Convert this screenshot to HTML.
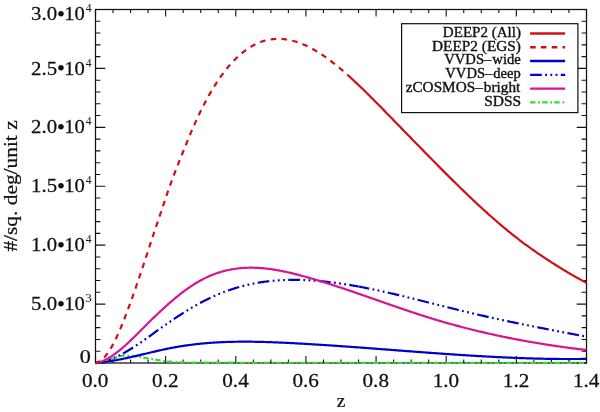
<!DOCTYPE html>
<html><head><meta charset="utf-8"><title>Redshift distributions</title>
<style>html,body{margin:0;padding:0;background:#fff;}svg{display:block;}text{font-kerning:none;}</style></head>
<body><svg width="600" height="412" viewBox="0 0 600 412" font-family="'Liberation Serif', serif" font-size="20" fill="#111">
<rect width="600" height="412" fill="#fff"/>
<rect x="95.5" y="9.5" width="491.00" height="353.50" fill="none" stroke="#111" stroke-width="1.25"/>
<path d="M95.50,363.00V356.00M95.50,9.50V16.50M113.04,363.00V359.50M113.04,9.50V13.00M130.57,363.00V359.50M130.57,9.50V13.00M148.11,363.00V359.50M148.11,9.50V13.00M165.64,363.00V356.00M165.64,9.50V16.50M183.18,363.00V359.50M183.18,9.50V13.00M200.71,363.00V359.50M200.71,9.50V13.00M218.25,363.00V359.50M218.25,9.50V13.00M235.79,363.00V356.00M235.79,9.50V16.50M253.32,363.00V359.50M253.32,9.50V13.00M270.86,363.00V359.50M270.86,9.50V13.00M288.39,363.00V359.50M288.39,9.50V13.00M305.93,363.00V356.00M305.93,9.50V16.50M323.46,363.00V359.50M323.46,9.50V13.00M341.00,363.00V359.50M341.00,9.50V13.00M358.54,363.00V359.50M358.54,9.50V13.00M376.07,363.00V356.00M376.07,9.50V16.50M393.61,363.00V359.50M393.61,9.50V13.00M411.14,363.00V359.50M411.14,9.50V13.00M428.68,363.00V359.50M428.68,9.50V13.00M446.21,363.00V356.00M446.21,9.50V16.50M463.75,363.00V359.50M463.75,9.50V13.00M481.29,363.00V359.50M481.29,9.50V13.00M498.82,363.00V359.50M498.82,9.50V13.00M516.36,363.00V356.00M516.36,9.50V16.50M533.89,363.00V359.50M533.89,9.50V13.00M551.43,363.00V359.50M551.43,9.50V13.00M568.96,363.00V359.50M568.96,9.50V13.00M586.50,363.00V356.00M586.50,9.50V16.50M95.50,363.00H105.30M586.50,363.00H576.70M95.50,351.22H100.40M586.50,351.22H581.60M95.50,339.43H100.40M586.50,339.43H581.60M95.50,327.65H100.40M586.50,327.65H581.60M95.50,315.87H100.40M586.50,315.87H581.60M95.50,304.08H105.30M586.50,304.08H576.70M95.50,292.30H100.40M586.50,292.30H581.60M95.50,280.52H100.40M586.50,280.52H581.60M95.50,268.73H100.40M586.50,268.73H581.60M95.50,256.95H100.40M586.50,256.95H581.60M95.50,245.17H105.30M586.50,245.17H576.70M95.50,233.38H100.40M586.50,233.38H581.60M95.50,221.60H100.40M586.50,221.60H581.60M95.50,209.82H100.40M586.50,209.82H581.60M95.50,198.03H100.40M586.50,198.03H581.60M95.50,186.25H105.30M586.50,186.25H576.70M95.50,174.47H100.40M586.50,174.47H581.60M95.50,162.68H100.40M586.50,162.68H581.60M95.50,150.90H100.40M586.50,150.90H581.60M95.50,139.12H100.40M586.50,139.12H581.60M95.50,127.33H105.30M586.50,127.33H576.70M95.50,115.55H100.40M586.50,115.55H581.60M95.50,103.77H100.40M586.50,103.77H581.60M95.50,91.98H100.40M586.50,91.98H581.60M95.50,80.20H100.40M586.50,80.20H581.60M95.50,68.42H105.30M586.50,68.42H576.70M95.50,56.63H100.40M586.50,56.63H581.60M95.50,44.85H100.40M586.50,44.85H581.60M95.50,33.07H100.40M586.50,33.07H581.60M95.50,21.28H100.40M586.50,21.28H581.60M95.50,9.50H105.30M586.50,9.50H576.70" stroke="#111" stroke-width="1.1" fill="none"/>
<g fill="none" stroke-width="2.2" stroke-linejoin="round">
<path d="M95.50,363.00 L96.50,362.90 L97.50,362.78 L98.50,362.63 L99.50,362.47 L100.50,362.29 L101.50,362.10 L102.50,361.87 L103.50,361.61 L104.50,361.32 L105.50,361.01 L106.50,360.69 L107.50,360.35 L108.50,360.01 L109.50,359.67 L110.50,359.32 L111.50,358.93 L112.50,358.54 L113.50,358.14 L114.50,357.77 L115.50,357.43 L116.50,357.07 L117.50,356.71 L118.50,356.38 L119.50,356.09 L120.50,355.89 L121.50,355.78 L122.50,355.70 L123.50,355.63 L124.50,355.58 L125.50,355.53 L126.50,355.51 L127.50,355.50 L128.50,355.53 L129.50,355.59 L130.50,355.68 L131.50,355.79 L132.50,355.90 L133.50,356.01 L134.50,356.12 L135.50,356.25 L136.50,356.38 L137.50,356.52 L138.50,356.67 L139.50,356.83 L140.50,357.01 L141.50,357.20 L142.50,357.41 L143.50,357.61 L144.50,357.81 L145.50,358.00 L146.50,358.17 L147.50,358.33 L148.50,358.49 L149.50,358.65 L150.50,358.81 L151.50,358.97 L152.50,359.13 L153.50,359.30 L154.50,359.47 L155.50,359.64 L156.50,359.81 L157.50,359.97 L158.50,360.13 L159.50,360.28 L160.50,360.44 L161.50,360.59 L162.50,360.73 L163.50,360.87 L164.50,361.01 L165.50,361.15 L166.50,361.28 L167.50,361.40 L168.50,361.52 L169.50,361.62 L170.50,361.71 L171.50,361.79 L172.50,361.87 L173.50,361.95 L174.50,362.01 L175.50,362.07 L176.50,362.13 L177.50,362.18 L178.50,362.22 L179.50,362.27 L180.50,362.31 L181.50,362.35 L182.50,362.38 L183.50,362.41 L184.50,362.43 L185.50,362.46 L186.50,362.48 L187.50,362.51 L188.50,362.53 L189.50,362.56 L190.50,362.58 L191.50,362.60 L192.50,362.62 L193.50,362.64 L194.50,362.65 L195.50,362.67 L196.50,362.68 L197.50,362.69 L198.50,362.70 L199.50,362.70 L200.50,362.70 L201.50,362.70 L202.50,362.70 L203.50,362.70 L204.50,362.70 L205.50,362.70 L206.50,362.70 L207.50,362.71 L208.50,362.71 L209.50,362.71 L210.50,362.71 L211.50,362.71 L212.50,362.71 L213.50,362.71 L214.50,362.71 L215.50,362.71 L216.50,362.71 L217.50,362.71 L218.50,362.71 L219.50,362.71 L220.50,362.71 L221.50,362.71 L222.50,362.72 L223.50,362.72 L224.50,362.72 L225.50,362.72 L226.50,362.72 L227.50,362.72 L228.50,362.72 L229.50,362.72 L230.50,362.72 L231.50,362.72 L232.50,362.72 L233.50,362.72 L234.50,362.72 L235.50,362.72 L236.50,362.72 L237.50,362.72 L238.50,362.73 L239.50,362.73 L240.50,362.73 L241.50,362.73 L242.50,362.73 L243.50,362.73 L244.50,362.73 L245.50,362.73 L246.50,362.73 L247.50,362.73 L248.50,362.73 L249.50,362.73 L250.50,362.73 L251.50,362.73 L252.50,362.73 L253.50,362.73 L254.50,362.73 L255.50,362.74 L256.50,362.74 L257.50,362.74 L258.50,362.74 L259.50,362.74 L260.50,362.74 L261.50,362.74 L262.50,362.74 L263.50,362.74 L264.50,362.74 L265.50,362.74 L266.50,362.74 L267.50,362.74 L268.50,362.74 L269.50,362.74 L270.50,362.74 L271.50,362.74 L272.50,362.74 L273.50,362.74 L274.50,362.74 L275.50,362.75 L276.50,362.75 L277.50,362.75 L278.50,362.75 L279.50,362.75 L280.50,362.75 L281.50,362.75 L282.50,362.75 L283.50,362.75 L284.50,362.75 L285.50,362.75 L286.50,362.75 L287.50,362.75 L288.50,362.75 L289.50,362.75 L290.50,362.75 L291.50,362.75 L292.50,362.75 L293.50,362.75 L294.50,362.75 L295.50,362.75 L296.50,362.76 L297.50,362.76 L298.50,362.76 L299.50,362.76 L300.50,362.76 L301.50,362.76 L302.50,362.76 L303.50,362.76 L304.50,362.76 L305.50,362.76 L306.50,362.76 L307.50,362.76 L308.50,362.76 L309.50,362.76 L310.50,362.76 L311.50,362.76 L312.50,362.76 L313.50,362.76 L314.50,362.76 L315.50,362.76 L316.50,362.76 L317.50,362.76 L318.50,362.76 L319.50,362.76 L320.50,362.76 L321.50,362.76 L322.50,362.77 L323.50,362.77 L324.50,362.77 L325.50,362.77 L326.50,362.77 L327.50,362.77 L328.50,362.77 L329.50,362.77 L330.50,362.77 L331.50,362.77 L332.50,362.77 L333.50,362.77 L334.50,362.77 L335.50,362.77 L336.50,362.77 L337.50,362.77 L338.50,362.77 L339.50,362.77 L340.50,362.77 L341.50,362.77 L342.50,362.77 L343.50,362.77 L344.50,362.77 L345.50,362.77 L346.50,362.77 L347.50,362.77 L348.50,362.77 L349.50,362.77 L350.50,362.77 L351.50,362.77 L352.50,362.77 L353.50,362.78 L354.50,362.78 L355.50,362.78 L356.50,362.78 L357.50,362.78 L358.50,362.78 L359.50,362.78 L360.50,362.78 L361.50,362.78 L362.50,362.78 L363.50,362.78 L364.50,362.78 L365.50,362.78 L366.50,362.78 L367.50,362.78 L368.50,362.78 L369.50,362.78 L370.50,362.78 L371.50,362.78 L372.50,362.78 L373.50,362.78 L374.50,362.78 L375.50,362.78 L376.50,362.78 L377.50,362.78 L378.50,362.78 L379.50,362.78 L380.50,362.78 L381.50,362.78 L382.50,362.78 L383.50,362.78 L384.50,362.78 L385.50,362.78 L386.50,362.78 L387.50,362.78 L388.50,362.78 L389.50,362.78 L390.50,362.78 L391.50,362.78 L392.50,362.78 L393.50,362.79 L394.50,362.79 L395.50,362.79 L396.50,362.79 L397.50,362.79 L398.50,362.79 L399.50,362.79 L400.50,362.79 L401.50,362.79 L402.50,362.79 L403.50,362.79 L404.50,362.79 L405.50,362.79 L406.50,362.79 L407.50,362.79 L408.50,362.79 L409.50,362.79 L410.50,362.79 L411.50,362.79 L412.50,362.79 L413.50,362.79 L414.50,362.79 L415.50,362.79 L416.50,362.79 L417.50,362.79 L418.50,362.79 L419.50,362.79 L420.50,362.79 L421.50,362.79 L422.50,362.79 L423.50,362.79 L424.50,362.79 L425.50,362.79 L426.50,362.79 L427.50,362.79 L428.50,362.79 L429.50,362.79 L430.50,362.79 L431.50,362.79 L432.50,362.79 L433.50,362.79 L434.50,362.79 L435.50,362.79 L436.50,362.79 L437.50,362.79 L438.50,362.79 L439.50,362.79 L440.50,362.79 L441.50,362.79 L442.50,362.79 L443.50,362.79 L444.50,362.79 L445.50,362.79 L446.50,362.79 L447.50,362.79 L448.50,362.79 L449.50,362.79 L450.50,362.79 L451.50,362.79 L452.50,362.79 L453.50,362.79 L454.50,362.79 L455.50,362.79 L456.50,362.79 L457.50,362.79 L458.50,362.79 L459.50,362.80 L460.50,362.80 L461.50,362.80 L462.50,362.80 L463.50,362.80 L464.50,362.80 L465.50,362.80 L466.50,362.80 L467.50,362.80 L468.50,362.80 L469.50,362.80 L470.50,362.80 L471.50,362.80 L472.50,362.80 L473.50,362.80 L474.50,362.80 L475.50,362.80 L476.50,362.80 L477.50,362.80 L478.50,362.80 L479.50,362.80 L480.50,362.80 L481.50,362.80 L482.50,362.80 L483.50,362.80 L484.50,362.80 L485.50,362.80 L486.50,362.80 L487.50,362.80 L488.50,362.80 L489.50,362.80 L490.50,362.80 L491.50,362.80 L492.50,362.80 L493.50,362.80 L494.50,362.80 L495.50,362.80 L496.50,362.80 L497.50,362.80 L498.50,362.80 L499.50,362.80 L500.50,362.80 L501.50,362.80 L502.50,362.80 L503.50,362.80 L504.50,362.80 L505.50,362.80 L506.50,362.80 L507.50,362.80 L508.50,362.80 L509.50,362.80 L510.50,362.80 L511.50,362.80 L512.50,362.80 L513.50,362.80 L514.50,362.80 L515.50,362.80 L516.50,362.80 L517.50,362.80 L518.50,362.80 L519.50,362.80 L520.50,362.80 L521.50,362.80 L522.50,362.80 L523.50,362.80 L524.50,362.80 L525.50,362.80 L526.50,362.80 L527.50,362.80 L528.50,362.80 L529.50,362.80 L530.50,362.80 L531.50,362.80 L532.50,362.80 L533.50,362.80 L534.50,362.80 L535.50,362.80 L536.50,362.80 L537.50,362.80 L538.50,362.80 L539.50,362.80 L540.50,362.80 L541.50,362.80 L542.50,362.80 L543.50,362.80 L544.50,362.80 L545.50,362.80 L546.50,362.80 L547.50,362.80 L548.50,362.80 L549.50,362.80 L550.50,362.80 L551.50,362.80 L552.50,362.80 L553.50,362.80 L554.50,362.80 L555.50,362.80 L556.50,362.80 L557.50,362.80 L558.50,362.80 L559.50,362.80 L560.50,362.80 L561.50,362.80 L562.50,362.80 L563.50,362.80 L564.50,362.80 L565.50,362.80 L566.50,362.80 L567.50,362.80 L568.50,362.80 L569.50,362.80 L570.50,362.80 L571.50,362.80 L572.50,362.80 L573.50,362.80 L574.50,362.80 L575.50,362.80 L576.50,362.80 L577.50,362.80 L578.50,362.80 L579.50,362.80 L580.50,362.80 L581.50,362.80 L582.50,362.80 L583.50,362.80 L584.50,362.80 L585.50,362.80 L586.50,362.80" stroke="#32dc32" stroke-dasharray="5.4 2.7 1.8 2.2" stroke-dashoffset="11.39"/>
<path d="M95.50,362.78 L96.50,362.71 L97.50,362.63 L98.50,362.55 L99.50,362.46 L100.50,362.36 L101.50,362.26 L102.50,362.15 L103.50,362.03 L104.50,361.91 L105.50,361.78 L106.50,361.65 L107.50,361.52 L108.50,361.37 L109.50,361.23 L110.50,361.07 L111.50,360.92 L112.50,360.76 L113.50,360.59 L114.50,360.42 L115.50,360.25 L116.50,360.07 L117.50,359.88 L118.50,359.70 L119.50,359.51 L120.50,359.31 L121.50,359.12 L122.50,358.92 L123.50,358.71 L124.50,358.51 L125.50,358.30 L126.50,358.09 L127.50,357.87 L128.50,357.65 L129.50,357.44 L130.50,357.21 L131.50,356.99 L132.50,356.76 L133.50,356.54 L134.50,356.31 L135.50,356.08 L136.50,355.85 L137.50,355.61 L138.50,355.38 L139.50,355.14 L140.50,354.91 L141.50,354.67 L142.50,354.43 L143.50,354.19 L144.50,353.95 L145.50,353.72 L146.50,353.48 L147.50,353.24 L148.50,353.00 L149.50,352.76 L150.50,352.52 L151.50,352.29 L152.50,352.05 L153.50,351.82 L154.50,351.58 L155.50,351.35 L156.50,351.12 L157.50,350.89 L158.50,350.66 L159.50,350.43 L160.50,350.21 L161.50,349.99 L162.50,349.77 L163.50,349.55 L164.50,349.33 L165.50,349.12 L166.50,348.91 L167.50,348.70 L168.50,348.49 L169.50,348.29 L170.50,348.10 L171.50,347.90 L172.50,347.71 L173.50,347.52 L174.50,347.34 L175.50,347.16 L176.50,346.98 L177.50,346.81 L178.50,346.63 L179.50,346.47 L180.50,346.30 L181.50,346.14 L182.50,345.99 L183.50,345.83 L184.50,345.68 L185.50,345.54 L186.50,345.39 L187.50,345.25 L188.50,345.11 L189.50,344.98 L190.50,344.85 L191.50,344.72 L192.50,344.60 L193.50,344.47 L194.50,344.35 L195.50,344.24 L196.50,344.13 L197.50,344.02 L198.50,343.91 L199.50,343.80 L200.50,343.70 L201.50,343.60 L202.50,343.51 L203.50,343.42 L204.50,343.32 L205.50,343.24 L206.50,343.15 L207.50,343.07 L208.50,342.99 L209.50,342.91 L210.50,342.84 L211.50,342.77 L212.50,342.70 L213.50,342.63 L214.50,342.57 L215.50,342.51 L216.50,342.45 L217.50,342.39 L218.50,342.34 L219.50,342.29 L220.50,342.24 L221.50,342.19 L222.50,342.14 L223.50,342.10 L224.50,342.06 L225.50,342.02 L226.50,341.99 L227.50,341.95 L228.50,341.92 L229.50,341.89 L230.50,341.86 L231.50,341.84 L232.50,341.81 L233.50,341.79 L234.50,341.77 L235.50,341.76 L236.50,341.74 L237.50,341.73 L238.50,341.72 L239.50,341.71 L240.50,341.70 L241.50,341.69 L242.50,341.69 L243.50,341.68 L244.50,341.68 L245.50,341.68 L246.50,341.69 L247.50,341.69 L248.50,341.70 L249.50,341.70 L250.50,341.71 L251.50,341.72 L252.50,341.73 L253.50,341.75 L254.50,341.76 L255.50,341.78 L256.50,341.80 L257.50,341.82 L258.50,341.84 L259.50,341.86 L260.50,341.88 L261.50,341.91 L262.50,341.93 L263.50,341.96 L264.50,341.99 L265.50,342.02 L266.50,342.05 L267.50,342.08 L268.50,342.11 L269.50,342.15 L270.50,342.18 L271.50,342.22 L272.50,342.25 L273.50,342.29 L274.50,342.33 L275.50,342.37 L276.50,342.41 L277.50,342.45 L278.50,342.50 L279.50,342.54 L280.50,342.58 L281.50,342.63 L282.50,342.67 L283.50,342.72 L284.50,342.77 L285.50,342.82 L286.50,342.86 L287.50,342.91 L288.50,342.96 L289.50,343.01 L290.50,343.06 L291.50,343.12 L292.50,343.17 L293.50,343.22 L294.50,343.27 L295.50,343.33 L296.50,343.38 L297.50,343.43 L298.50,343.49 L299.50,343.54 L300.50,343.60 L301.50,343.65 L302.50,343.71 L303.50,343.77 L304.50,343.83 L305.50,343.88 L306.50,343.94 L307.50,344.00 L308.50,344.06 L309.50,344.12 L310.50,344.18 L311.50,344.24 L312.50,344.30 L313.50,344.36 L314.50,344.42 L315.50,344.48 L316.50,344.55 L317.50,344.61 L318.50,344.67 L319.50,344.73 L320.50,344.80 L321.50,344.86 L322.50,344.93 L323.50,344.99 L324.50,345.06 L325.50,345.12 L326.50,345.19 L327.50,345.25 L328.50,345.32 L329.50,345.39 L330.50,345.45 L331.50,345.52 L332.50,345.59 L333.50,345.65 L334.50,345.72 L335.50,345.79 L336.50,345.86 L337.50,345.93 L338.50,346.00 L339.50,346.07 L340.50,346.14 L341.50,346.21 L342.50,346.28 L343.50,346.35 L344.50,346.42 L345.50,346.49 L346.50,346.56 L347.50,346.63 L348.50,346.70 L349.50,346.77 L350.50,346.85 L351.50,346.92 L352.50,346.99 L353.50,347.06 L354.50,347.14 L355.50,347.21 L356.50,347.28 L357.50,347.36 L358.50,347.43 L359.50,347.50 L360.50,347.58 L361.50,347.65 L362.50,347.72 L363.50,347.80 L364.50,347.87 L365.50,347.95 L366.50,348.02 L367.50,348.10 L368.50,348.17 L369.50,348.25 L370.50,348.32 L371.50,348.40 L372.50,348.47 L373.50,348.55 L374.50,348.62 L375.50,348.70 L376.50,348.78 L377.50,348.85 L378.50,348.93 L379.50,349.00 L380.50,349.08 L381.50,349.15 L382.50,349.23 L383.50,349.31 L384.50,349.38 L385.50,349.46 L386.50,349.54 L387.50,349.61 L388.50,349.69 L389.50,349.76 L390.50,349.84 L391.50,349.92 L392.50,349.99 L393.50,350.07 L394.50,350.15 L395.50,350.22 L396.50,350.30 L397.50,350.38 L398.50,350.45 L399.50,350.53 L400.50,350.60 L401.50,350.68 L402.50,350.76 L403.50,350.83 L404.50,350.91 L405.50,350.98 L406.50,351.06 L407.50,351.14 L408.50,351.21 L409.50,351.29 L410.50,351.36 L411.50,351.44 L412.50,351.51 L413.50,351.59 L414.50,351.67 L415.50,351.74 L416.50,351.82 L417.50,351.89 L418.50,351.97 L419.50,352.04 L420.50,352.11 L421.50,352.19 L422.50,352.26 L423.50,352.34 L424.50,352.41 L425.50,352.48 L426.50,352.56 L427.50,352.63 L428.50,352.71 L429.50,352.78 L430.50,352.85 L431.50,352.92 L432.50,353.00 L433.50,353.07 L434.50,353.14 L435.50,353.21 L436.50,353.29 L437.50,353.36 L438.50,353.43 L439.50,353.50 L440.50,353.57 L441.50,353.64 L442.50,353.71 L443.50,353.78 L444.50,353.85 L445.50,353.92 L446.50,353.99 L447.50,354.06 L448.50,354.13 L449.50,354.20 L450.50,354.27 L451.50,354.33 L452.50,354.40 L453.50,354.47 L454.50,354.54 L455.50,354.60 L456.50,354.67 L457.50,354.74 L458.50,354.80 L459.50,354.87 L460.50,354.93 L461.50,355.00 L462.50,355.06 L463.50,355.13 L464.50,355.19 L465.50,355.25 L466.50,355.32 L467.50,355.38 L468.50,355.44 L469.50,355.51 L470.50,355.57 L471.50,355.63 L472.50,355.69 L473.50,355.75 L474.50,355.81 L475.50,355.87 L476.50,355.93 L477.50,355.99 L478.50,356.05 L479.50,356.11 L480.50,356.16 L481.50,356.22 L482.50,356.28 L483.50,356.33 L484.50,356.39 L485.50,356.45 L486.50,356.50 L487.50,356.56 L488.50,356.61 L489.50,356.66 L490.50,356.72 L491.50,356.77 L492.50,356.82 L493.50,356.87 L494.50,356.93 L495.50,356.98 L496.50,357.03 L497.50,357.08 L498.50,357.13 L499.50,357.17 L500.50,357.22 L501.50,357.27 L502.50,357.32 L503.50,357.36 L504.50,357.41 L505.50,357.46 L506.50,357.50 L507.50,357.55 L508.50,357.59 L509.50,357.63 L510.50,357.68 L511.50,357.72 L512.50,357.76 L513.50,357.80 L514.50,357.84 L515.50,357.88 L516.50,357.92 L517.50,357.96 L518.50,358.00 L519.50,358.04 L520.50,358.07 L521.50,358.11 L522.50,358.14 L523.50,358.18 L524.50,358.21 L525.50,358.25 L526.50,358.28 L527.50,358.31 L528.50,358.35 L529.50,358.38 L530.50,358.41 L531.50,358.44 L532.50,358.47 L533.50,358.49 L534.50,358.52 L535.50,358.55 L536.50,358.58 L537.50,358.60 L538.50,358.63 L539.50,358.65 L540.50,358.67 L541.50,358.70 L542.50,358.72 L543.50,358.74 L544.50,358.76 L545.50,358.78 L546.50,358.80 L547.50,358.82 L548.50,358.84 L549.50,358.85 L550.50,358.87 L551.50,358.89 L552.50,358.90 L553.50,358.91 L554.50,358.93 L555.50,358.94 L556.50,358.95 L557.50,358.96 L558.50,358.97 L559.50,358.98 L560.50,358.99 L561.50,359.00 L562.50,359.00 L563.50,359.01 L564.50,359.01 L565.50,359.02 L566.50,359.02 L567.50,359.02 L568.50,359.02 L569.50,359.03 L570.50,359.03 L571.50,359.02 L572.50,359.02 L573.50,359.02 L574.50,359.02 L575.50,359.01 L576.50,359.01 L577.50,359.00 L578.50,358.99 L579.50,358.99 L580.50,358.98 L581.50,358.97 L582.50,358.96 L583.50,358.94 L584.50,358.93 L585.50,358.92 L586.50,358.90" stroke="#0000c8"/>
<path d="M95.50,363.08 L96.50,362.97 L97.50,362.83 L98.50,362.68 L99.50,362.51 L100.50,362.31 L101.50,362.10 L102.50,361.87 L103.50,361.62 L104.50,361.35 L105.50,361.07 L106.50,360.76 L107.50,360.44 L108.50,360.10 L109.50,359.75 L110.50,359.38 L111.50,358.99 L112.50,358.59 L113.50,358.18 L114.50,357.75 L115.50,357.30 L116.50,356.84 L117.50,356.37 L118.50,355.88 L119.50,355.38 L120.50,354.87 L121.50,354.35 L122.50,353.82 L123.50,353.27 L124.50,352.71 L125.50,352.14 L126.50,351.56 L127.50,350.98 L128.50,350.38 L129.50,349.77 L130.50,349.15 L131.50,348.53 L132.50,347.90 L133.50,347.26 L134.50,346.61 L135.50,345.95 L136.50,345.29 L137.50,344.62 L138.50,343.95 L139.50,343.27 L140.50,342.58 L141.50,341.89 L142.50,341.20 L143.50,340.50 L144.50,339.80 L145.50,339.09 L146.50,338.38 L147.50,337.67 L148.50,336.95 L149.50,336.24 L150.50,335.52 L151.50,334.80 L152.50,334.08 L153.50,333.36 L154.50,332.63 L155.50,331.91 L156.50,331.19 L157.50,330.47 L158.50,329.75 L159.50,329.04 L160.50,328.32 L161.50,327.61 L162.50,326.90 L163.50,326.19 L164.50,325.49 L165.50,324.78 L166.50,324.09 L167.50,323.39 L168.50,322.70 L169.50,322.01 L170.50,321.33 L171.50,320.65 L172.50,319.97 L173.50,319.30 L174.50,318.63 L175.50,317.96 L176.50,317.30 L177.50,316.64 L178.50,315.99 L179.50,315.34 L180.50,314.70 L181.50,314.05 L182.50,313.42 L183.50,312.79 L184.50,312.16 L185.50,311.54 L186.50,310.92 L187.50,310.31 L188.50,309.70 L189.50,309.10 L190.50,308.51 L191.50,307.91 L192.50,307.33 L193.50,306.75 L194.50,306.17 L195.50,305.60 L196.50,305.04 L197.50,304.48 L198.50,303.93 L199.50,303.38 L200.50,302.84 L201.50,302.30 L202.50,301.77 L203.50,301.25 L204.50,300.73 L205.50,300.22 L206.50,299.72 L207.50,299.22 L208.50,298.73 L209.50,298.25 L210.50,297.77 L211.50,297.30 L212.50,296.83 L213.50,296.38 L214.50,295.93 L215.50,295.49 L216.50,295.05 L217.50,294.62 L218.50,294.20 L219.50,293.79 L220.50,293.38 L221.50,292.98 L222.50,292.58 L223.50,292.20 L224.50,291.82 L225.50,291.44 L226.50,291.08 L227.50,290.72 L228.50,290.36 L229.50,290.02 L230.50,289.68 L231.50,289.34 L232.50,289.02 L233.50,288.70 L234.50,288.38 L235.50,288.08 L236.50,287.77 L237.50,287.48 L238.50,287.19 L239.50,286.91 L240.50,286.63 L241.50,286.36 L242.50,286.10 L243.50,285.84 L244.50,285.59 L245.50,285.34 L246.50,285.10 L247.50,284.87 L248.50,284.64 L249.50,284.42 L250.50,284.20 L251.50,283.99 L252.50,283.78 L253.50,283.59 L254.50,283.39 L255.50,283.20 L256.50,283.02 L257.50,282.84 L258.50,282.67 L259.50,282.51 L260.50,282.35 L261.50,282.19 L262.50,282.04 L263.50,281.90 L264.50,281.76 L265.50,281.62 L266.50,281.49 L267.50,281.37 L268.50,281.25 L269.50,281.14 L270.50,281.03 L271.50,280.92 L272.50,280.82 L273.50,280.73 L274.50,280.64 L275.50,280.56 L276.50,280.48 L277.50,280.40 L278.50,280.33 L279.50,280.27 L280.50,280.21 L281.50,280.15 L282.50,280.10 L283.50,280.05 L284.50,280.01 L285.50,279.97 L286.50,279.94 L287.50,279.91 L288.50,279.88 L289.50,279.86 L290.50,279.84 L291.50,279.83 L292.50,279.82 L293.50,279.82 L294.50,279.82 L295.50,279.82 L296.50,279.83 L297.50,279.84 L298.50,279.86 L299.50,279.88 L300.50,279.90 L301.50,279.93 L302.50,279.96 L303.50,280.00 L304.50,280.03 L305.50,280.08 L306.50,280.12 L307.50,280.17 L308.50,280.23 L309.50,280.28 L310.50,280.34 L311.50,280.40 L312.50,280.47 L313.50,280.54 L314.50,280.61 L315.50,280.69 L316.50,280.77 L317.50,280.85 L318.50,280.94 L319.50,281.03 L320.50,281.12 L321.50,281.22 L322.50,281.32 L323.50,281.42 L324.50,281.52 L325.50,281.63 L326.50,281.74 L327.50,281.85 L328.50,281.97 L329.50,282.08 L330.50,282.21 L331.50,282.33 L332.50,282.45 L333.50,282.58 L334.50,282.71 L335.50,282.85 L336.50,282.98 L337.50,283.12 L338.50,283.26 L339.50,283.41 L340.50,283.55 L341.50,283.70 L342.50,283.85 L343.50,284.00 L344.50,284.16 L345.50,284.31 L346.50,284.47 L347.50,284.63 L348.50,284.80 L349.50,284.96 L350.50,285.13 L351.50,285.30 L352.50,285.47 L353.50,285.64 L354.50,285.82 L355.50,285.99 L356.50,286.17 L357.50,286.35 L358.50,286.54" stroke="#0000c8" stroke-dasharray="11.7 3.4 1.8 3.4 1.8 3.4 1.8 3.4" stroke-dashoffset="1.31"/>
<path d="M358.50,286.54 L359.50,286.72 L360.50,286.91 L361.50,287.09 L362.50,287.28 L363.50,287.48 L364.50,287.67 L365.50,287.86 L366.50,288.06 L367.50,288.26 L368.50,288.46 L369.50,288.66 L370.50,288.86 L371.50,289.07 L372.50,289.28 L373.50,289.48 L374.50,289.69 L375.50,289.90 L376.50,290.11 L377.50,290.33 L378.50,290.54 L379.50,290.76 L380.50,290.98 L381.50,291.20 L382.50,291.42 L383.50,291.64 L384.50,291.86 L385.50,292.08 L386.50,292.31 L387.50,292.53 L388.50,292.76 L389.50,292.99 L390.50,293.22 L391.50,293.45 L392.50,293.68 L393.50,293.91 L394.50,294.15 L395.50,294.38 L396.50,294.62 L397.50,294.85 L398.50,295.09 L399.50,295.33 L400.50,295.57 L401.50,295.81 L402.50,296.05 L403.50,296.29 L404.50,296.53 L405.50,296.77 L406.50,297.02 L407.50,297.26 L408.50,297.50 L409.50,297.75 L410.50,298.00 L411.50,298.24 L412.50,298.49 L413.50,298.74 L414.50,298.98 L415.50,299.23 L416.50,299.48 L417.50,299.73 L418.50,299.98 L419.50,300.23 L420.50,300.48 L421.50,300.73 L422.50,300.98 L423.50,301.23 L424.50,301.49 L425.50,301.74 L426.50,301.99 L427.50,302.24 L428.50,302.49 L429.50,302.75 L430.50,303.00 L431.50,303.25 L432.50,303.50 L433.50,303.76 L434.50,304.01 L435.50,304.26 L436.50,304.52 L437.50,304.77 L438.50,305.02 L439.50,305.27 L440.50,305.53 L441.50,305.78 L442.50,306.03 L443.50,306.28 L444.50,306.53 L445.50,306.78 L446.50,307.03 L447.50,307.29 L448.50,307.54 L449.50,307.79 L450.50,308.03 L451.50,308.28 L452.50,308.53 L453.50,308.78 L454.50,309.03 L455.50,309.28 L456.50,309.52 L457.50,309.77 L458.50,310.01 L459.50,310.26 L460.50,310.50 L461.50,310.75 L462.50,310.99 L463.50,311.23 L464.50,311.47 L465.50,311.72 L466.50,311.96 L467.50,312.19 L468.50,312.43 L469.50,312.67 L470.50,312.91 L471.50,313.14 L472.50,313.38 L473.50,313.61 L474.50,313.85 L475.50,314.08 L476.50,314.31 L477.50,314.54 L478.50,314.77 L479.50,315.00 L480.50,315.23 L481.50,315.46 L482.50,315.69 L483.50,315.91 L484.50,316.14 L485.50,316.37 L486.50,316.59 L487.50,316.81 L488.50,317.04 L489.50,317.26 L490.50,317.48 L491.50,317.70 L492.50,317.92 L493.50,318.14 L494.50,318.36 L495.50,318.58 L496.50,318.80 L497.50,319.02 L498.50,319.23 L499.50,319.45 L500.50,319.66 L501.50,319.88 L502.50,320.09 L503.50,320.31 L504.50,320.52 L505.50,320.73 L506.50,320.94 L507.50,321.16 L508.50,321.37 L509.50,321.58 L510.50,321.79 L511.50,322.00 L512.50,322.20 L513.50,322.41 L514.50,322.62 L515.50,322.83 L516.50,323.03 L517.50,323.24 L518.50,323.45 L519.50,323.65 L520.50,323.86 L521.50,324.06 L522.50,324.26 L523.50,324.47 L524.50,324.67 L525.50,324.87 L526.50,325.07 L527.50,325.28 L528.50,325.48 L529.50,325.68 L530.50,325.88 L531.50,326.08 L532.50,326.28 L533.50,326.48 L534.50,326.68 L535.50,326.87 L536.50,327.07 L537.50,327.27 L538.50,327.47 L539.50,327.66 L540.50,327.86 L541.50,328.06 L542.50,328.25 L543.50,328.45 L544.50,328.64 L545.50,328.84 L546.50,329.03 L547.50,329.23 L548.50,329.42 L549.50,329.62 L550.50,329.81 L551.50,330.00 L552.50,330.20 L553.50,330.39 L554.50,330.58 L555.50,330.78 L556.50,330.97 L557.50,331.16 L558.50,331.35 L559.50,331.55 L560.50,331.74 L561.50,331.93 L562.50,332.12 L563.50,332.31 L564.50,332.50 L565.50,332.69 L566.50,332.88 L567.50,333.07 L568.50,333.26 L569.50,333.45 L570.50,333.64 L571.50,333.83 L572.50,334.02 L573.50,334.21 L574.50,334.40 L575.50,334.59 L576.50,334.78 L577.50,334.97 L578.50,335.16 L579.50,335.35 L580.50,335.54 L581.50,335.73 L582.50,335.92 L583.50,336.11 L584.50,336.30 L585.50,336.49 L586.50,336.68" stroke="#0000c8" stroke-dasharray="11.7 3.4 1.8 3.4 1.8 3.4 1.8 3.4" stroke-dashoffset="0.81"/>
<path d="M95.50,363.38 L96.50,363.17 L97.50,362.92 L98.50,362.63 L99.50,362.32 L100.50,361.97 L101.50,361.59 L102.50,361.19 L103.50,360.75 L104.50,360.29 L105.50,359.79 L106.50,359.27 L107.50,358.73 L108.50,358.15 L109.50,357.56 L110.50,356.94 L111.50,356.29 L112.50,355.62 L113.50,354.93 L114.50,354.22 L115.50,353.49 L116.50,352.74 L117.50,351.97 L118.50,351.18 L119.50,350.38 L120.50,349.56 L121.50,348.72 L122.50,347.86 L123.50,347.00 L124.50,346.12 L125.50,345.22 L126.50,344.31 L127.50,343.39 L128.50,342.47 L129.50,341.53 L130.50,340.58 L131.50,339.62 L132.50,338.65 L133.50,337.68 L134.50,336.70 L135.50,335.72 L136.50,334.73 L137.50,333.73 L138.50,332.74 L139.50,331.74 L140.50,330.74 L141.50,329.73 L142.50,328.73 L143.50,327.73 L144.50,326.73 L145.50,325.73 L146.50,324.73 L147.50,323.73 L148.50,322.74 L149.50,321.75 L150.50,320.77 L151.50,319.79 L152.50,318.82 L153.50,317.84 L154.50,316.88 L155.50,315.92 L156.50,314.96 L157.50,314.01 L158.50,313.06 L159.50,312.12 L160.50,311.18 L161.50,310.25 L162.50,309.33 L163.50,308.41 L164.50,307.50 L165.50,306.60 L166.50,305.70 L167.50,304.81 L168.50,303.92 L169.50,303.05 L170.50,302.18 L171.50,301.32 L172.50,300.46 L173.50,299.62 L174.50,298.78 L175.50,297.95 L176.50,297.13 L177.50,296.32 L178.50,295.52 L179.50,294.72 L180.50,293.94 L181.50,293.16 L182.50,292.40 L183.50,291.64 L184.50,290.90 L185.50,290.16 L186.50,289.44 L187.50,288.72 L188.50,288.02 L189.50,287.33 L190.50,286.65 L191.50,285.98 L192.50,285.32 L193.50,284.67 L194.50,284.04 L195.50,283.42 L196.50,282.81 L197.50,282.21 L198.50,281.62 L199.50,281.05 L200.50,280.49 L201.50,279.95 L202.50,279.41 L203.50,278.89 L204.50,278.39 L205.50,277.89 L206.50,277.41 L207.50,276.95 L208.50,276.50 L209.50,276.05 L210.50,275.63 L211.50,275.21 L212.50,274.81 L213.50,274.42 L214.50,274.04 L215.50,273.68 L216.50,273.32 L217.50,272.98 L218.50,272.65 L219.50,272.33 L220.50,272.03 L221.50,271.73 L222.50,271.45 L223.50,271.18 L224.50,270.92 L225.50,270.67 L226.50,270.43 L227.50,270.20 L228.50,269.98 L229.50,269.78 L230.50,269.58 L231.50,269.39 L232.50,269.22 L233.50,269.05 L234.50,268.90 L235.50,268.75 L236.50,268.62 L237.50,268.49 L238.50,268.38 L239.50,268.27 L240.50,268.18 L241.50,268.09 L242.50,268.01 L243.50,267.94 L244.50,267.88 L245.50,267.83 L246.50,267.79 L247.50,267.75 L248.50,267.73 L249.50,267.71 L250.50,267.70 L251.50,267.70 L252.50,267.71 L253.50,267.73 L254.50,267.75 L255.50,267.78 L256.50,267.82 L257.50,267.87 L258.50,267.92 L259.50,267.98 L260.50,268.05 L261.50,268.13 L262.50,268.21 L263.50,268.30 L264.50,268.40 L265.50,268.50 L266.50,268.61 L267.50,268.73 L268.50,268.85 L269.50,268.98 L270.50,269.11 L271.50,269.25 L272.50,269.40 L273.50,269.55 L274.50,269.71 L275.50,269.87 L276.50,270.04 L277.50,270.21 L278.50,270.39 L279.50,270.58 L280.50,270.77 L281.50,270.96 L282.50,271.16 L283.50,271.36 L284.50,271.57 L285.50,271.78 L286.50,272.00 L287.50,272.22 L288.50,272.45 L289.50,272.68 L290.50,272.91 L291.50,273.15 L292.50,273.39 L293.50,273.63 L294.50,273.88 L295.50,274.13 L296.50,274.38 L297.50,274.64 L298.50,274.90 L299.50,275.16 L300.50,275.43 L301.50,275.70 L302.50,275.97 L303.50,276.24 L304.50,276.52 L305.50,276.80 L306.50,277.08 L307.50,277.36 L308.50,277.64 L309.50,277.93 L310.50,278.21 L311.50,278.50 L312.50,278.79 L313.50,279.09 L314.50,279.38 L315.50,279.68 L316.50,279.98 L317.50,280.28 L318.50,280.58 L319.50,280.88 L320.50,281.19 L321.50,281.49 L322.50,281.80 L323.50,282.11 L324.50,282.42 L325.50,282.74 L326.50,283.05 L327.50,283.36 L328.50,283.68 L329.50,284.00 L330.50,284.32 L331.50,284.64 L332.50,284.96 L333.50,285.28 L334.50,285.61 L335.50,285.93 L336.50,286.26 L337.50,286.59 L338.50,286.92 L339.50,287.25 L340.50,287.58 L341.50,287.91 L342.50,288.24 L343.50,288.58 L344.50,288.91 L345.50,289.25 L346.50,289.59 L347.50,289.92 L348.50,290.26 L349.50,290.60 L350.50,290.94 L351.50,291.28 L352.50,291.62 L353.50,291.96 L354.50,292.31 L355.50,292.65 L356.50,292.99 L357.50,293.34 L358.50,293.68 L359.50,294.03 L360.50,294.37 L361.50,294.72 L362.50,295.07 L363.50,295.42 L364.50,295.76 L365.50,296.11 L366.50,296.46 L367.50,296.81 L368.50,297.16 L369.50,297.51 L370.50,297.85 L371.50,298.20 L372.50,298.55 L373.50,298.90 L374.50,299.25 L375.50,299.60 L376.50,299.95 L377.50,300.30 L378.50,300.65 L379.50,301.00 L380.50,301.35 L381.50,301.70 L382.50,302.05 L383.50,302.40 L384.50,302.75 L385.50,303.10 L386.50,303.45 L387.50,303.79 L388.50,304.14 L389.50,304.49 L390.50,304.84 L391.50,305.18 L392.50,305.53 L393.50,305.88 L394.50,306.22 L395.50,306.57 L396.50,306.91 L397.50,307.25 L398.50,307.60 L399.50,307.94 L400.50,308.28 L401.50,308.62 L402.50,308.96 L403.50,309.30 L404.50,309.64 L405.50,309.98 L406.50,310.32 L407.50,310.66 L408.50,310.99 L409.50,311.33 L410.50,311.66 L411.50,311.99 L412.50,312.33 L413.50,312.66 L414.50,312.99 L415.50,313.32 L416.50,313.64 L417.50,313.97 L418.50,314.30 L419.50,314.62 L420.50,314.95 L421.50,315.27 L422.50,315.59 L423.50,315.91 L424.50,316.23 L425.50,316.54 L426.50,316.86 L427.50,317.17 L428.50,317.48 L429.50,317.80 L430.50,318.11 L431.50,318.41 L432.50,318.72 L433.50,319.03 L434.50,319.33 L435.50,319.63 L436.50,319.93 L437.50,320.23 L438.50,320.53 L439.50,320.82 L440.50,321.12 L441.50,321.41 L442.50,321.70 L443.50,321.99 L444.50,322.28 L445.50,322.57 L446.50,322.85 L447.50,323.14 L448.50,323.42 L449.50,323.70 L450.50,323.98 L451.50,324.26 L452.50,324.53 L453.50,324.81 L454.50,325.08 L455.50,325.35 L456.50,325.62 L457.50,325.89 L458.50,326.16 L459.50,326.43 L460.50,326.69 L461.50,326.96 L462.50,327.22 L463.50,327.48 L464.50,327.74 L465.50,327.99 L466.50,328.25 L467.50,328.51 L468.50,328.76 L469.50,329.01 L470.50,329.26 L471.50,329.51 L472.50,329.76 L473.50,330.01 L474.50,330.25 L475.50,330.50 L476.50,330.74 L477.50,330.98 L478.50,331.22 L479.50,331.46 L480.50,331.69 L481.50,331.93 L482.50,332.16 L483.50,332.40 L484.50,332.63 L485.50,332.86 L486.50,333.09 L487.50,333.32 L488.50,333.54 L489.50,333.77 L490.50,333.99 L491.50,334.21 L492.50,334.44 L493.50,334.65 L494.50,334.87 L495.50,335.09 L496.50,335.31 L497.50,335.52 L498.50,335.74 L499.50,335.95 L500.50,336.16 L501.50,336.37 L502.50,336.58 L503.50,336.78 L504.50,336.99 L505.50,337.20 L506.50,337.40 L507.50,337.60 L508.50,337.80 L509.50,338.00 L510.50,338.20 L511.50,338.40 L512.50,338.59 L513.50,338.79 L514.50,338.98 L515.50,339.18 L516.50,339.37 L517.50,339.56 L518.50,339.75 L519.50,339.93 L520.50,340.12 L521.50,340.31 L522.50,340.49 L523.50,340.67 L524.50,340.86 L525.50,341.04 L526.50,341.22 L527.50,341.40 L528.50,341.57 L529.50,341.75 L530.50,341.92 L531.50,342.10 L532.50,342.27 L533.50,342.44 L534.50,342.61 L535.50,342.78 L536.50,342.95 L537.50,343.12 L538.50,343.29 L539.50,343.45 L540.50,343.62 L541.50,343.78 L542.50,343.94 L543.50,344.10 L544.50,344.26 L545.50,344.42 L546.50,344.58 L547.50,344.73 L548.50,344.89 L549.50,345.04 L550.50,345.20 L551.50,345.35 L552.50,345.50 L553.50,345.65 L554.50,345.80 L555.50,345.95 L556.50,346.10 L557.50,346.24 L558.50,346.39 L559.50,346.53 L560.50,346.68 L561.50,346.82 L562.50,346.96 L563.50,347.10 L564.50,347.24 L565.50,347.38 L566.50,347.52 L567.50,347.65 L568.50,347.79 L569.50,347.92 L570.50,348.05 L571.50,348.19 L572.50,348.32 L573.50,348.45 L574.50,348.58 L575.50,348.71 L576.50,348.84 L577.50,348.96 L578.50,349.09 L579.50,349.21 L580.50,349.34 L581.50,349.46 L582.50,349.58 L583.50,349.71 L584.50,349.83 L585.50,349.95 L586.50,350.06" stroke="#d71491"/>
<path d="M95.50,362.85 L96.50,362.67 L97.50,362.37 L98.50,361.96 L99.50,361.43 L100.50,360.79 L101.50,360.04 L102.50,359.18 L103.50,358.22 L104.50,357.15 L105.50,355.99 L106.50,354.73 L107.50,353.38 L108.50,351.93 L109.50,350.40 L110.50,348.78 L111.50,347.07 L112.50,345.29 L113.50,343.43 L114.50,341.49 L115.50,339.48 L116.50,337.40 L117.50,335.25 L118.50,333.04 L119.50,330.76 L120.50,328.43 L121.50,326.04 L122.50,323.59 L123.50,321.09 L124.50,318.55 L125.50,315.96 L126.50,313.33 L127.50,310.66 L128.50,307.96 L129.50,305.23 L130.50,302.47 L131.50,299.68 L132.50,296.87 L133.50,294.05 L134.50,291.21 L135.50,288.35 L136.50,285.47 L137.50,282.57 L138.50,279.65 L139.50,276.71 L140.50,273.75 L141.50,270.77 L142.50,267.78 L143.50,264.77 L144.50,261.74 L145.50,258.71 L146.50,255.66 L147.50,252.61 L148.50,249.56 L149.50,246.51 L150.50,243.46 L151.50,240.41 L152.50,237.37 L153.50,234.34 L154.50,231.32 L155.50,228.31 L156.50,225.32 L157.50,222.35 L158.50,219.39 L159.50,216.44 L160.50,213.49 L161.50,210.52 L162.50,207.55 L163.50,204.57 L164.50,201.59 L165.50,198.62 L166.50,195.66 L167.50,192.73 L168.50,189.83 L169.50,186.97 L170.50,184.15 L171.50,181.38 L172.50,178.67 L173.50,176.00 L174.50,173.38 L175.50,170.79 L176.50,168.23 L177.50,165.70 L178.50,163.19 L179.50,160.69 L180.50,158.21 L181.50,155.73 L182.50,153.25 L183.50,150.78 L184.50,148.29 L185.50,145.81 L186.50,143.34 L187.50,140.88 L188.50,138.44 L189.50,136.02 L190.50,133.63 L191.50,131.26 L192.50,128.94 L193.50,126.64 L194.50,124.38 L195.50,122.15 L196.50,119.96 L197.50,117.80 L198.50,115.67 L199.50,113.57 L200.50,111.51 L201.50,109.48 L202.50,107.48 L203.50,105.52 L204.50,103.58 L205.50,101.68 L206.50,99.81 L207.50,97.98 L208.50,96.17 L209.50,94.40 L210.50,92.66 L211.50,90.95 L212.50,89.27 L213.50,87.62 L214.50,86.01 L215.50,84.42 L216.50,82.87 L217.50,81.34 L218.50,79.85 L219.50,78.39 L220.50,76.95 L221.50,75.55 L222.50,74.17 L223.50,72.83 L224.50,71.51 L225.50,70.23 L226.50,68.97 L227.50,67.74 L228.50,66.54 L229.50,65.37 L230.50,64.22 L231.50,63.11 L232.50,62.02 L233.50,60.96 L234.50,59.93 L235.50,58.92 L236.50,57.94 L237.50,56.99 L238.50,56.06 L239.50,55.16 L240.50,54.29 L241.50,53.45 L242.50,52.63 L243.50,51.83 L244.50,51.06 L245.50,50.32 L246.50,49.60 L247.50,48.91 L248.50,48.24 L249.50,47.59 L250.50,46.98 L251.50,46.38 L252.50,45.81 L253.50,45.26 L254.50,44.74 L255.50,44.24 L256.50,43.76 L257.50,43.31 L258.50,42.88 L259.50,42.48 L260.50,42.09 L261.50,41.73 L262.50,41.39 L263.50,41.07 L264.50,40.78 L265.50,40.51 L266.50,40.25 L267.50,40.02 L268.50,39.81 L269.50,39.63 L270.50,39.46 L271.50,39.31 L272.50,39.19 L273.50,39.08 L274.50,39.00 L275.50,38.93 L276.50,38.89 L277.50,38.86 L278.50,38.85 L279.50,38.87 L280.50,38.90 L281.50,38.95 L282.50,39.02 L283.50,39.11 L284.50,39.21 L285.50,39.34 L286.50,39.48 L287.50,39.64 L288.50,39.82 L289.50,40.01 L290.50,40.23 L291.50,40.46 L292.50,40.70 L293.50,40.96 L294.50,41.24 L295.50,41.54 L296.50,41.85 L297.50,42.18 L298.50,42.52 L299.50,42.88 L300.50,43.26 L301.50,43.65 L302.50,44.05 L303.50,44.47 L304.50,44.91 L305.50,45.36 L306.50,45.82 L307.50,46.30 L308.50,46.79 L309.50,47.29 L310.50,47.81 L311.50,48.34 L312.50,48.89 L313.50,49.45 L314.50,50.02 L315.50,50.60 L316.50,51.20 L317.50,51.80 L318.50,52.42 L319.50,53.06 L320.50,53.70 L321.50,54.36 L322.50,55.02 L323.50,55.70 L324.50,56.39 L325.50,57.09 L326.50,57.80 L327.50,58.52 L328.50,59.25 L329.50,59.99 L330.50,60.74 L331.50,61.50 L332.50,62.27 L333.50,63.05 L334.50,63.83 L335.50,64.63 L336.50,65.44 L337.50,66.25 L338.50,67.07 L339.50,67.90 L340.50,68.74 L341.50,69.59 L342.50,70.44 L343.50,71.30 L344.50,72.17 L345.50,73.05 L346.50,73.93 L347.50,74.82" stroke="#d01018" stroke-dasharray="5.6 5.26" stroke-dashoffset="0.51"/>
<path d="M347.50,74.82 L348.50,75.72 L349.50,76.62 L350.50,77.53 L351.50,78.44 L352.50,79.36 L353.50,80.28 L354.50,81.22 L355.50,82.15 L356.50,83.09 L357.50,84.04 L358.50,84.99 L359.50,85.94 L360.50,86.90 L361.50,87.87 L362.50,88.83 L363.50,89.81 L364.50,90.78 L365.50,91.76 L366.50,92.74 L367.50,93.73 L368.50,94.72 L369.50,95.71 L370.50,96.70 L371.50,97.70 L372.50,98.70 L373.50,99.71 L374.50,100.71 L375.50,101.72 L376.50,102.73 L377.50,103.74 L378.50,104.76 L379.50,105.78 L380.50,106.79 L381.50,107.81 L382.50,108.84 L383.50,109.86 L384.50,110.88 L385.50,111.91 L386.50,112.93 L387.50,113.96 L388.50,114.99 L389.50,116.02 L390.50,117.04 L391.50,118.07 L392.50,119.10 L393.50,120.13 L394.50,121.16 L395.50,122.19 L396.50,123.22 L397.50,124.25 L398.50,125.28 L399.50,126.30 L400.50,127.33 L401.50,128.36 L402.50,129.39 L403.50,130.42 L404.50,131.44 L405.50,132.47 L406.50,133.50 L407.50,134.52 L408.50,135.55 L409.50,136.57 L410.50,137.60 L411.50,138.62 L412.50,139.65 L413.50,140.67 L414.50,141.69 L415.50,142.72 L416.50,143.74 L417.50,144.76 L418.50,145.79 L419.50,146.81 L420.50,147.83 L421.50,148.85 L422.50,149.87 L423.50,150.89 L424.50,151.91 L425.50,152.93 L426.50,153.94 L427.50,154.96 L428.50,155.98 L429.50,156.99 L430.50,158.01 L431.50,159.03 L432.50,160.04 L433.50,161.05 L434.50,162.07 L435.50,163.08 L436.50,164.09 L437.50,165.10 L438.50,166.11 L439.50,167.12 L440.50,168.13 L441.50,169.13 L442.50,170.14 L443.50,171.14 L444.50,172.14 L445.50,173.14 L446.50,174.14 L447.50,175.14 L448.50,176.14 L449.50,177.13 L450.50,178.13 L451.50,179.12 L452.50,180.11 L453.50,181.10 L454.50,182.09 L455.50,183.07 L456.50,184.05 L457.50,185.03 L458.50,186.01 L459.50,186.99 L460.50,187.97 L461.50,188.94 L462.50,189.91 L463.50,190.88 L464.50,191.84 L465.50,192.81 L466.50,193.77 L467.50,194.73 L468.50,195.69 L469.50,196.64 L470.50,197.59 L471.50,198.54 L472.50,199.49 L473.50,200.43 L474.50,201.37 L475.50,202.31 L476.50,203.24 L477.50,204.18 L478.50,205.11 L479.50,206.03 L480.50,206.95 L481.50,207.87 L482.50,208.79 L483.50,209.70 L484.50,210.61 L485.50,211.52 L486.50,212.42 L487.50,213.32 L488.50,214.22 L489.50,215.11 L490.50,216.00 L491.50,216.89 L492.50,217.77 L493.50,218.65 L494.50,219.52 L495.50,220.40 L496.50,221.26 L497.50,222.13 L498.50,222.98 L499.50,223.84 L500.50,224.69 L501.50,225.54 L502.50,226.38 L503.50,227.22 L504.50,228.05 L505.50,228.88 L506.50,229.71 L507.50,230.53 L508.50,231.34 L509.50,232.16 L510.50,232.96 L511.50,233.77 L512.50,234.57 L513.50,235.36 L514.50,236.15 L515.50,236.93 L516.50,237.71 L517.50,238.48 L518.50,239.25 L519.50,240.02 L520.50,240.78 L521.50,241.53 L522.50,242.28 L523.50,243.03 L524.50,243.77 L525.50,244.51 L526.50,245.24 L527.50,245.97 L528.50,246.70 L529.50,247.42 L530.50,248.13 L531.50,248.84 L532.50,249.55 L533.50,250.26 L534.50,250.96 L535.50,251.65 L536.50,252.35 L537.50,253.04 L538.50,253.72 L539.50,254.40 L540.50,255.08 L541.50,255.76 L542.50,256.43 L543.50,257.10 L544.50,257.76 L545.50,258.42 L546.50,259.08 L547.50,259.74 L548.50,260.39 L549.50,261.04 L550.50,261.68 L551.50,262.33 L552.50,262.97 L553.50,263.60 L554.50,264.24 L555.50,264.87 L556.50,265.50 L557.50,266.12 L558.50,266.75 L559.50,267.37 L560.50,267.99 L561.50,268.61 L562.50,269.22 L563.50,269.83 L564.50,270.44 L565.50,271.04 L566.50,271.64 L567.50,272.24 L568.50,272.83 L569.50,273.42 L570.50,274.01 L571.50,274.59 L572.50,275.16 L573.50,275.74 L574.50,276.30 L575.50,276.87 L576.50,277.42 L577.50,277.98 L578.50,278.52 L579.50,279.06 L580.50,279.60 L581.50,280.13 L582.50,280.65 L583.50,281.17 L584.50,281.68 L585.50,282.18 L586.50,282.68" stroke="#d01018"/>
</g>
<rect x="401.6" y="23.7" width="176.30" height="88.90" fill="#fff" stroke="#111" stroke-width="1.2"/><text transform="translate(442.87,36.80) scale(1.0740,1)" font-size="14" stroke="#111" stroke-width="0.35">DEEP2 (All)</text><path d="M530.1,33.50H565.1" stroke="#d01018" stroke-width="2.3" fill="none"/><text transform="translate(432.06,50.58) scale(1.0940,1)" font-size="14" stroke="#111" stroke-width="0.35">DEEP2 (EGS)</text><path d="M530.1,47.26H565.1" stroke="#d01018" stroke-width="2.3" fill="none" stroke-dasharray="5.6 5.2"/><text transform="translate(444.24,64.36) scale(1.0442,1)" font-size="14" stroke="#111" stroke-width="0.35">VVDS–<tspan dx="1.0">wide</tspan></text><path d="M530.1,61.02H565.1" stroke="#0000c8" stroke-width="2.3" fill="none"/><text transform="translate(445.34,78.14) scale(1.0412,1)" font-size="14" stroke="#111" stroke-width="0.35">VVDS–<tspan dx="1.0">deep</tspan></text><path d="M530.1,74.78H565.1" stroke="#0000c8" stroke-width="2.3" fill="none" stroke-dasharray="11.7 3.4 1.8 3.4 1.8 3.4 1.8 3.4"/><text transform="translate(405.69,91.92) scale(1.0899,1)" font-size="14" stroke="#111" stroke-width="0.35">zCOSMOS–<tspan dx="1.0">bright</tspan></text><path d="M530.1,88.54H565.1" stroke="#d71491" stroke-width="2.3" fill="none"/><text transform="translate(484.16,105.70) scale(1.1085,1)" font-size="14" stroke="#111" stroke-width="0.35">SDSS</text><path d="M530.1,102.30H565.1" stroke="#32dc32" stroke-width="2.3" fill="none" stroke-dasharray="5.4 2.7 1.8 2.2"/>
<text transform="translate(95.20,386.6) scale(1.07,1)" text-anchor="middle" font-size="19.8" stroke="#111" stroke-width="0.25">0.0</text><text transform="translate(165.34,386.6) scale(1.07,1)" text-anchor="middle" font-size="19.8" stroke="#111" stroke-width="0.25">0.2</text><text transform="translate(235.49,386.6) scale(1.07,1)" text-anchor="middle" font-size="19.8" stroke="#111" stroke-width="0.25">0.4</text><text transform="translate(305.63,386.6) scale(1.07,1)" text-anchor="middle" font-size="19.8" stroke="#111" stroke-width="0.25">0.6</text><text transform="translate(375.77,386.6) scale(1.07,1)" text-anchor="middle" font-size="19.8" stroke="#111" stroke-width="0.25">0.8</text><text transform="translate(445.91,386.6) scale(1.07,1)" text-anchor="middle" font-size="19.8" stroke="#111" stroke-width="0.25">1.0</text><text transform="translate(516.06,386.6) scale(1.07,1)" text-anchor="middle" font-size="19.8" stroke="#111" stroke-width="0.25">1.2</text><text transform="translate(586.20,386.6) scale(1.07,1)" text-anchor="middle" font-size="19.8" stroke="#111" stroke-width="0.25">1.4</text>
<text transform="translate(31.10,20.20) scale(1.05,1)" font-size="19.8" stroke="#111" stroke-width="0.25">3.0</text><text x="56.80" y="21.94" font-size="24">•</text><text transform="translate(64.19,20.20) scale(1.0401,1)" font-size="19.8" stroke="#111" stroke-width="0.25">10</text><text transform="translate(85.67,12.00) scale(0.9522,1)" font-size="12.2">4</text><text transform="translate(31.12,74.70) scale(1.05,1)" font-size="19.8" stroke="#111" stroke-width="0.25">2.5</text><text x="56.80" y="76.44" font-size="24">•</text><text transform="translate(64.19,74.70) scale(1.0401,1)" font-size="19.8" stroke="#111" stroke-width="0.25">10</text><text transform="translate(85.67,66.50) scale(0.9522,1)" font-size="12.2">4</text><text transform="translate(31.10,133.20) scale(1.05,1)" font-size="19.8" stroke="#111" stroke-width="0.25">2.0</text><text x="56.80" y="134.94" font-size="24">•</text><text transform="translate(64.19,133.20) scale(1.0401,1)" font-size="19.8" stroke="#111" stroke-width="0.25">10</text><text transform="translate(85.67,125.00) scale(0.9522,1)" font-size="12.2">4</text><text transform="translate(31.12,191.90) scale(1.05,1)" font-size="19.8" stroke="#111" stroke-width="0.25">1.5</text><text x="56.80" y="193.64" font-size="24">•</text><text transform="translate(64.19,191.90) scale(1.0401,1)" font-size="19.8" stroke="#111" stroke-width="0.25">10</text><text transform="translate(85.67,183.70) scale(0.9522,1)" font-size="12.2">4</text><text transform="translate(31.10,250.90) scale(1.05,1)" font-size="19.8" stroke="#111" stroke-width="0.25">1.0</text><text x="56.80" y="252.64" font-size="24">•</text><text transform="translate(64.19,250.90) scale(1.0401,1)" font-size="19.8" stroke="#111" stroke-width="0.25">10</text><text transform="translate(85.67,242.70) scale(0.9522,1)" font-size="12.2">4</text><text transform="translate(31.10,310.20) scale(1.05,1)" font-size="19.8" stroke="#111" stroke-width="0.25">5.0</text><text x="56.80" y="311.94" font-size="24">•</text><text transform="translate(64.19,310.20) scale(1.0401,1)" font-size="19.8" stroke="#111" stroke-width="0.25">10</text><text transform="translate(85.27,302.00) scale(1.0715,1)" font-size="12.2">3</text><text transform="translate(79.76,363.10) scale(1.1201,1)" font-size="19.8" stroke="#111" stroke-width="0.25">0</text>
<text transform="translate(336.78,406.60) scale(1.0707,1)" font-size="18" stroke="#111" stroke-width="0.25">z</text>
<text transform="translate(16.60,251.59) rotate(-90) scale(1.1257,1)" font-size="19" stroke="#111" stroke-width="0.25">#/sq. deg/unit z</text>
</svg></body></html>
